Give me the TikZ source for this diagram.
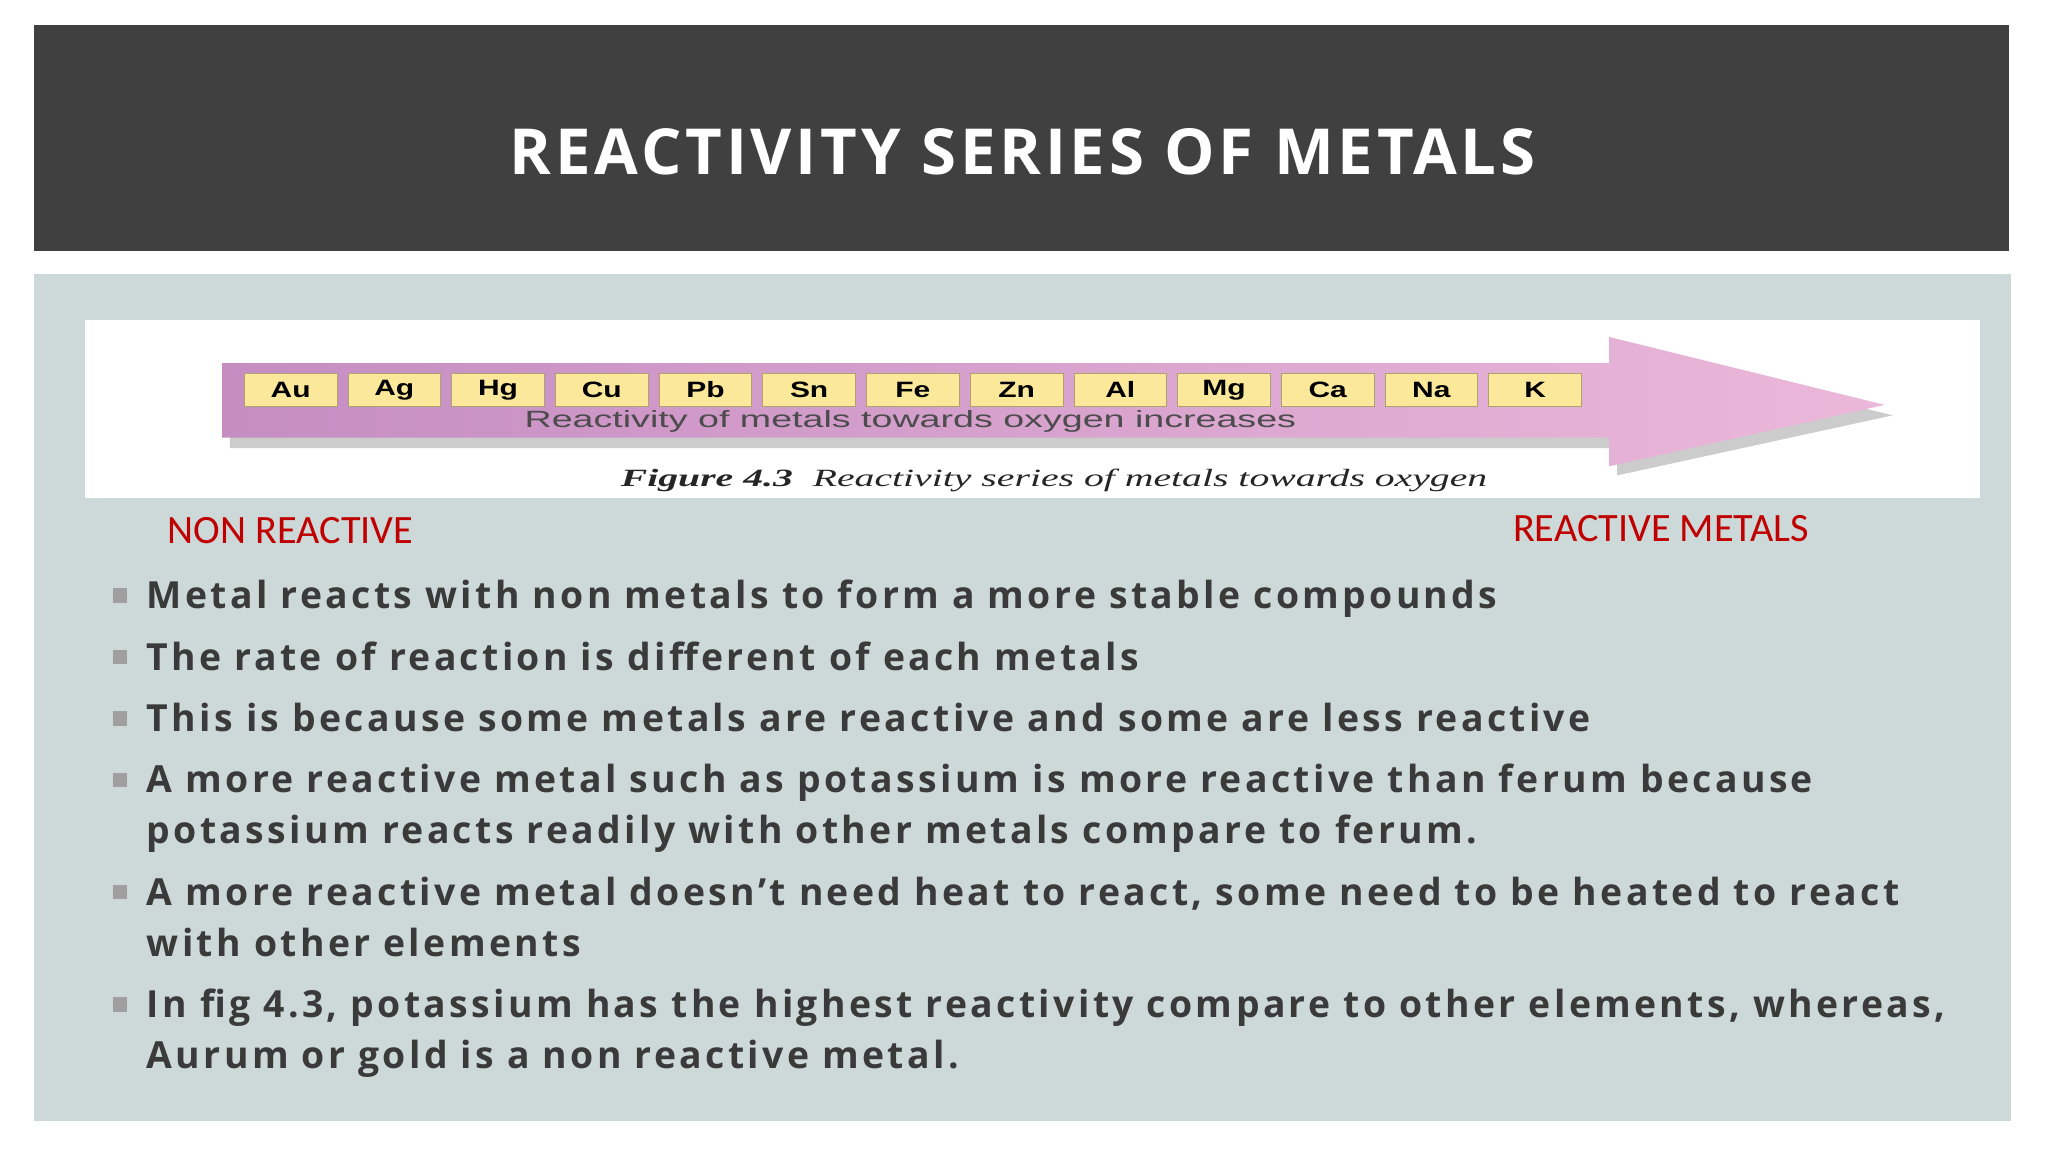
\documentclass[tikz,border=0pt]{standalone}
\usepackage{fontspec}
\setmainfont{Open Sans}
\newfontfamily\bodyf[LetterSpace=9]{Open Sans}
\newfontfamily\titlef[LetterSpace=6]{Open Sans}
\newfontfamily\calf{Carlito}
\newfontfamily\capf{Liberation Serif}
\newfontfamily\arf{Liberation Sans}
\definecolor{hdr}{HTML}{404040}
\definecolor{panel}{HTML}{CDD9D8}
\definecolor{txt}{HTML}{3A3A3A}
\definecolor{redl}{HTML}{C00000}
\definecolor{boxy}{HTML}{FCE89A}
\definecolor{arl}{HTML}{C58DC2}
\definecolor{arr}{HTML}{EBB8DA}
\begin{document}
\begin{tikzpicture}[x=0.5pt,y=-0.5pt,
  elem/.style={draw=boxy!70!black,line width=0.3pt,fill=boxy,minimum width=35.5pt,minimum height=12.5pt,inner sep=0pt,font=\arf\bfseries\fontsize{8.5}{9}\selectfont},
  bul/.style={anchor=base west,inner sep=0pt,text=txt,font=\bodyf\bfseries\fontsize{14.3}{19.5}\selectfont,align=left},
  sq/.style={fill=gray!75,minimum size=5.5pt,inner sep=0pt}]
\useasboundingbox[fill=white] (0,0) rectangle (1568,882);
\fill[hdr] (26,19) rectangle (1538,192);
\node (title) at (783,116) {\titlef\bfseries\fontsize{24.3}{30}\selectfont\color{white}REACTIVITY SERIES OF METALS};
\fill[panel] (26,210) rectangle (1540,858);
\fill[white] (65,245) rectangle (1516,381);
% arrow shadow
\fill[gray!40] (176,286) -- (1238,286) -- (1238,266) -- (1449,318) -- (1238,364) -- (1238,343) -- (176,343) -- cycle;
\shade[left color=arl,right color=arr] (170,278) -- (1232,278) -- (1232,258) -- (1443,310) -- (1232,357) -- (1232,335) -- (170,335) -- cycle;
\foreach \e [count=\i from 0] in {Au,Ag,Hg,Cu,Pb,Sn,Fe,Zn,Al,Mg,Ca,Na,K}
  \node[elem] (e\i) at ({222.5+79.4*\i},298.5) {\scalebox{1.35}[1]{\e}};
\node (incr) at (697,323) {\arf\fontsize{9}{9}\selectfont\color{black!70}\scalebox{1.6}[1]{Reactivity of metals towards oxygen increases}};
\node (cap) at (807,368) {\capf\itshape\fontsize{9.5}{9}\selectfont\color{black!85}\scalebox{1.6}[1]{\textbf{Figure 4.3}\ \ Reactivity series of metals towards oxygen}};
\node[anchor=west,inner sep=0pt] (nr) at (128,406) {\calf\fontsize{15.4}{16}\selectfont\color{redl}NON REACTIVE};
\node[anchor=west,inner sep=0pt] (rm) at (1158,405) {\calf\fontsize{15.4}{16}\selectfont\color{redl}REACTIVE METALS};
\foreach \y in {456,503,550,597,683,769} \node[sq] at (92,\y) {};
\node[bul] (b1) at (112,466) {Metal reacts with non metals to form a more stable compounds};
\node[bul] (b2) at (112,513) {The rate of reaction is different of each metals};
\node[bul] (b3) at (112,560) {This is because some metals are reactive and some are less reactive};
\node[bul] (b4) at (112,646) {A more reactive metal such as potassium is more reactive than ferum because\\potassium reacts readily with other metals compare to ferum.};
\node[bul] (b5) at (112,732) {A more reactive metal doesn’t need heat to react, some need to be heated to react\\with other elements};
\node[bul] (b6) at (112,818) {In fig 4.3, potassium has the highest reactivity compare to other elements, whereas,\\Aurum or gold is a non reactive metal.};
\end{tikzpicture}
\end{document}
